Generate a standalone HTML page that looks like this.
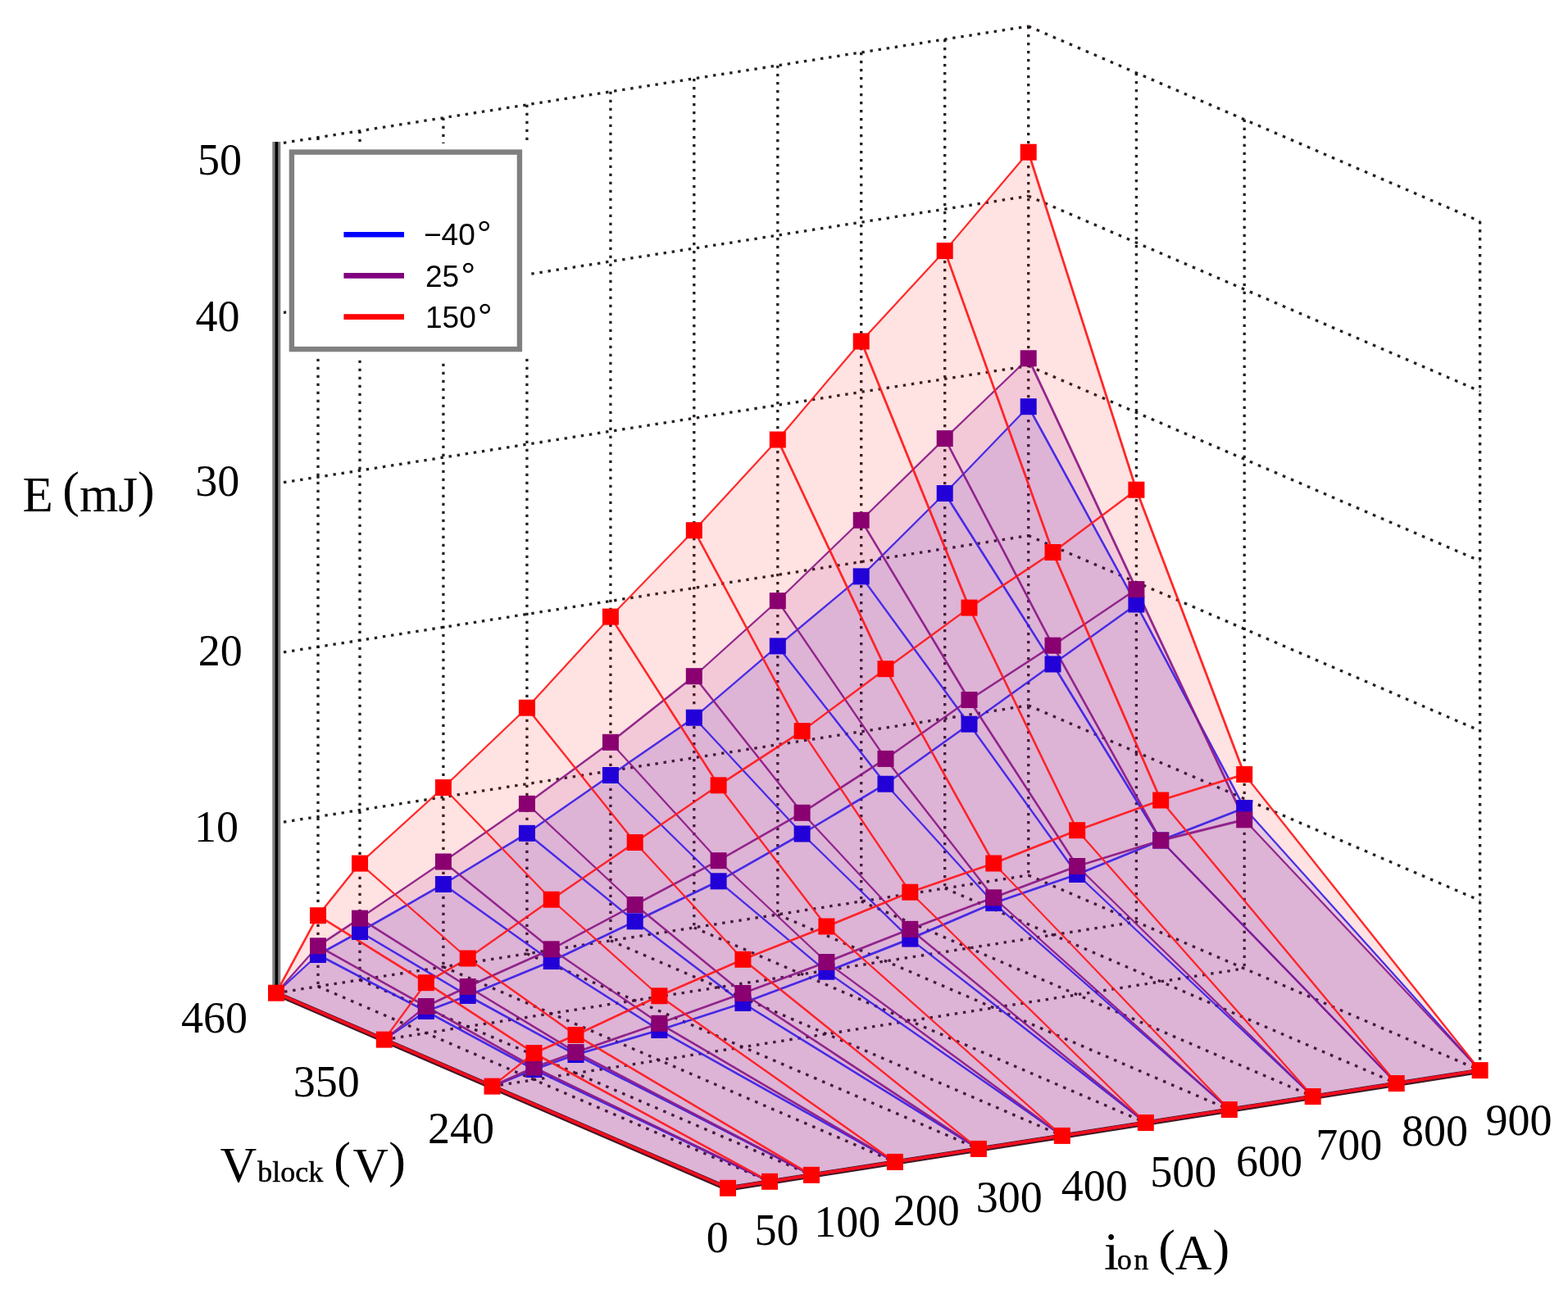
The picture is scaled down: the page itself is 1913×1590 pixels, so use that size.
<!DOCTYPE html>
<html lang="en"><head><meta charset="utf-8"><title>E (mJ) vs Vblock (V) and ion (A)</title>
<style>
html,body{margin:0;padding:0;background:#fff;}
body{width:1913px;height:1590px;overflow:hidden;}
svg{display:block;}
.t{font-family:"Liberation Serif","DejaVu Serif",serif;fill:#000;}
.l{font-family:"Liberation Sans","DejaVu Sans",sans-serif;fill:#000;}
.d{stroke:#141010;stroke-width:3.3;stroke-opacity:.93;fill:none;}
</style></head><body>
<svg width="1913" height="1590" viewBox="0 0 1913 1590">
<rect width="1913" height="1590" fill="#fff"/>
<defs><filter id="soft" x="0" y="0" width="1913" height="1590" filterUnits="userSpaceOnUse"><feGaussianBlur stdDeviation="0.55"/></filter></defs>
<g filter="url(#soft)">
<g class="d">
<path d="M346 1003.1L1254.7 860.8" stroke-dasharray="3.4 6.8"/>
<path d="M346 795.9L1254.7 653.6" stroke-dasharray="3.4 6.8"/>
<path d="M346 588.7L1254.7 446.4" stroke-dasharray="3.4 6.8"/>
<path d="M346 381.5L1254.7 239.2" stroke-dasharray="3.4 6.8"/>
<path d="M346 174.3L1254.7 32" stroke-dasharray="3.4 6.8"/>
<path d="M388 167.7L388 1203.7" stroke-dasharray="3.3 6.7"/>
<path d="M439 159.7L439 1195.7" stroke-dasharray="3.3 6.7"/>
<path d="M540.9 143.8L540.9 1179.8" stroke-dasharray="3.3 6.7"/>
<path d="M642.9 127.8L642.9 1163.8" stroke-dasharray="3.3 6.7"/>
<path d="M744.9 111.8L744.9 1147.8" stroke-dasharray="3.3 6.7"/>
<path d="M846.8 95.9L846.8 1131.9" stroke-dasharray="3.3 6.7"/>
<path d="M948.8 79.9L948.8 1115.9" stroke-dasharray="3.3 6.7"/>
<path d="M1050.7 63.9L1050.7 1099.9" stroke-dasharray="3.3 6.7"/>
<path d="M1152.7 47.9L1152.7 1083.9" stroke-dasharray="3.3 6.7"/>
<path d="M1254.7 32L1254.7 1068" stroke-dasharray="3.3 6.7"/>
<path d="M1254.7 860.8L1805.6 1098.9" stroke-dasharray="3.6 7.3"/>
<path d="M1254.7 653.6L1805.6 891.7" stroke-dasharray="3.6 7.3"/>
<path d="M1254.7 446.4L1805.6 684.5" stroke-dasharray="3.6 7.3"/>
<path d="M1254.7 239.2L1805.6 477.3" stroke-dasharray="3.6 7.3"/>
<path d="M1254.7 32L1805.6 270.1" stroke-dasharray="3.6 7.3"/>
<path d="M1386.4 88.9L1386.4 1124.9" stroke-dasharray="3.3 6.7"/>
<path d="M1518.2 145.8L1518.2 1181.8" stroke-dasharray="3.3 6.7"/>
<path d="M1805.6 270.1L1805.6 1306.1" stroke-dasharray="3.3 6.7"/>
<path d="M388 1203.7L939 1441.8" stroke-dasharray="3.6 7.3"/>
<path d="M439 1195.7L990 1433.8" stroke-dasharray="3.6 7.3"/>
<path d="M540.9 1179.8L1091.9 1417.9" stroke-dasharray="3.6 7.3"/>
<path d="M642.9 1163.8L1193.9 1401.9" stroke-dasharray="3.6 7.3"/>
<path d="M744.9 1147.8L1295.8 1385.9" stroke-dasharray="3.6 7.3"/>
<path d="M846.8 1131.9L1397.8 1370" stroke-dasharray="3.6 7.3"/>
<path d="M948.8 1115.9L1499.8 1354" stroke-dasharray="3.6 7.3"/>
<path d="M1050.7 1099.9L1601.7 1338" stroke-dasharray="3.6 7.3"/>
<path d="M1152.7 1083.9L1703.7 1322" stroke-dasharray="3.6 7.3"/>
<path d="M1254.7 1068L1805.6 1306.1" stroke-dasharray="3.6 7.3"/>
<path d="M337 1211.7L1254.7 1068" stroke-dasharray="3.4 6.8"/>
<path d="M468.8 1268.6L1386.4 1124.9" stroke-dasharray="3.4 6.8"/>
<path d="M600.5 1325.6L1518.2 1181.8" stroke-dasharray="3.4 6.8"/>
</g>
<path d="M337 1211.7L337 1211.7L468.8 1268.6L600.5 1325.6L888 1449.8L888 1449.8L888 1449.8L939 1441.8L990 1433.8L1295.8 1385.9L1397.8 1370L1805.6 1306.1L1805.6 1306.1L1805.6 1306.1L1518.2 986L1518.2 986L1518.2 986L1386.4 737.5L1386.4 737.5L1254.7 496.2L1254.7 496.2L1254.6 496.2L1152.7 602L1152.7 602L1050.7 703.4L1050.7 703.4L948.8 788.4L846.8 875.7L846.8 875.7L744.9 946L744.9 946L642.9 1016.8L642.9 1016.8L540.9 1079L540.9 1079L439 1137L439 1137L388 1165L388 1165L388 1165L388 1165L337 1211.7ZM948.8 788.4L948.8 788.4L948.8 788.4Z" fill="#0000ff" fill-opacity="0.115" fill-rule="evenodd"/>
<path d="M337 1211.7L337 1211.7L468.8 1268.6L600.5 1325.6L888 1449.8L888 1449.8L888 1449.8L939 1441.8L990 1433.8L1295.8 1385.9L1397.8 1370L1805.6 1306.1L1805.6 1306.1L1805.6 1306.1L1518.2 1000.3L1518.2 1000.3L1518.2 1000.3L1518.1 1000.3L1386.4 719.1L1254.7 437.3L1254.7 437.3L1254.6 437.3L1152.7 535.1L1152.7 535.1L1050.7 634.8L1050.7 634.8L948.8 733.2L948.8 733.2L846.8 825.2L846.8 825.2L744.9 905.8L744.8 905.8L642.9 980.8L642.9 980.8L540.9 1051.5L540.9 1051.5L439 1120.6L439 1120.6L388 1154.3L388 1154.3L388 1154.3L388 1154.3L388 1154.3L337 1211.7Z" fill="#800080" fill-opacity="0.115" fill-rule="evenodd"/>
<path d="M337 1211.7L337 1211.7L468.8 1268.6L600.5 1325.6L888 1449.8L888 1449.8L888 1449.8L939 1441.8L990 1433.8L1295.8 1385.9L1397.8 1370L1805.6 1306.1L1805.6 1306.1L1805.6 1306.1L1518.2 944.9L1518.2 944.9L1518.2 944.9L1518.2 944.9L1386.4 597.7L1386.4 597.7L1254.7 185.7L1254.7 185.7L1254.6 185.7L1152.7 306.1L1152.7 306.1L1050.7 416.5L1050.7 416.5L948.8 536.5L948.8 536.5L846.8 647.2L846.8 647.2L744.9 752.6L642.9 863.7L642.9 863.7L540.9 961L540.9 961L439 1053.6L439 1053.6L439 1053.6L439 1053.6L439 1053.6L388 1117.2L388 1117.2L388 1117.2L388 1117.2L388 1117.2L337 1211.7ZM744.9 752.6L744.9 752.6L744.9 752.6Z" fill="#ff0000" fill-opacity="0.115" fill-rule="evenodd"/>
<path d="M337.3 173V1211.7" stroke="#808080" stroke-width="10" fill="none"/>
<path d="M337.4 173V1211.7" stroke="#000" stroke-width="3.6" fill="none"/>
<path d="M337 1212.4L888 1450.5L1805.6 1306.8" stroke="#2a000c" stroke-opacity="0.9" stroke-width="6.4" fill="none" stroke-linejoin="round"/>
<g stroke="#3a1ee6" fill="none" stroke-linecap="round" stroke-opacity="0.92">
<path stroke-width="2.2" d="M337 1211.7L388 1165M846.8 875.7L948.8 788.4M1050.7 703.4L1152.7 602M1152.7 602L1254.7 496.2M744.9 946L876.6 1075.3M876.6 1075.3L1008.4 1185.7M846.8 875.7L978.6 1017.5M978.6 1017.5L1110.3 1145.6M1080.5 956.7L1212.3 1102M1212.3 1102L1499.8 1354M1314.2 1067L1601.7 1338M1416.2 1025.5L1703.7 1322M1518.2 986L1805.6 1306.1"/>
<path stroke-width="2.4" d="M642.9 1016.8L744.9 946M744.9 946L846.8 875.7M948.8 788.4L1050.7 703.4M468.8 1268.6L519.8 1234M1080.5 956.7L1182.5 883.7M1182.5 883.7L1284.5 810.5M1284.5 810.5L1386.4 737.5M540.9 1079L672.7 1173M642.9 1016.8L774.7 1124.3M774.7 1124.3L906.4 1224M1008.4 1185.7L1295.8 1385.9M1110.3 1145.6L1397.8 1370M948.8 788.4L1080.5 956.7M1050.7 703.4L1182.5 883.7M1182.5 883.7L1314.2 1067"/>
<path stroke-width="2.6" d="M388 1165L439 1137M439 1137L540.9 1079M540.9 1079L642.9 1016.8M876.6 1075.3L978.6 1017.5M978.6 1017.5L1080.5 956.7M388 1165L519.8 1234M519.8 1234L651.5 1305M439 1137L570.7 1215M570.7 1215L702.5 1287M702.5 1287L990 1433.8M672.7 1173L804.4 1257M804.4 1257L1091.9 1417.9M906.4 1224L1193.9 1401.9M1152.7 602L1284.5 810.5M1284.5 810.5L1416.2 1025.5M1254.7 496.2L1386.4 737.5M1386.4 737.5L1518.2 986"/>
<path stroke-width="2.8" d="M519.8 1234L570.7 1215M570.7 1215L672.7 1173M672.7 1173L774.7 1124.3M774.7 1124.3L876.6 1075.3M600.5 1325.6L651.5 1305M651.5 1305L702.5 1287M702.5 1287L804.4 1257M804.4 1257L906.4 1224M906.4 1224L1008.4 1185.7M1008.4 1185.7L1110.3 1145.6M1110.3 1145.6L1212.3 1102M1212.3 1102L1314.2 1067M1314.2 1067L1416.2 1025.5M1416.2 1025.5L1518.2 986M337 1211.7L468.8 1268.6M468.8 1268.6L600.5 1325.6M600.5 1325.6L888 1449.8M651.5 1305L939 1441.8"/>
<path stroke-width="3" d="M888 1449.8L939 1441.8M939 1441.8L990 1433.8M990 1433.8L1091.9 1417.9M1091.9 1417.9L1193.9 1401.9M1193.9 1401.9L1295.8 1385.9M1295.8 1385.9L1397.8 1370M1397.8 1370L1499.8 1354M1499.8 1354L1601.7 1338M1601.7 1338L1703.7 1322M1703.7 1322L1805.6 1306.1"/>
</g>
<g stroke="#8b1a86" fill="none" stroke-linecap="round" stroke-opacity="0.92">
<path stroke-width="2.2" d="M337 1211.7L388 1154.3M846.8 825.2L948.8 733.2M948.8 733.2L1050.7 634.8M1050.7 634.8L1152.7 535.1M1152.7 535.1L1254.7 437.3M642.9 980.8L774.7 1104M744.9 905.8L876.6 1050.2M876.6 1050.2L1008.4 1174M978.6 991.8L1110.3 1133.8M1212.3 1095.3L1499.8 1354M1314.2 1057L1601.7 1338M1416.2 1025.5L1703.7 1322M1518.2 1000.3L1805.6 1306.1"/>
<path stroke-width="2.4" d="M439 1120.6L540.9 1051.5M540.9 1051.5L642.9 980.8M642.9 980.8L744.9 905.8M744.9 905.8L846.8 825.2M468.8 1268.6L519.8 1228M1080.5 925.9L1182.5 854M1284.5 787.7L1386.4 719.1M540.9 1051.5L672.7 1158.3M672.7 1158.3L804.4 1248.8M774.7 1104L906.4 1212M1008.4 1174L1295.8 1385.9M846.8 825.2L978.6 991.8M1110.3 1133.8L1397.8 1370M948.8 733.2L1080.5 925.9M1080.5 925.9L1212.3 1095.3"/>
<path stroke-width="2.6" d="M388 1154.3L439 1120.6M672.7 1158.3L774.7 1104M774.7 1104L876.6 1050.2M876.6 1050.2L978.6 991.8M978.6 991.8L1080.5 925.9M1182.5 854L1284.5 787.7M388 1154.3L519.8 1228M519.8 1228L651.5 1302.5M651.5 1302.5L939 1441.8M439 1120.6L570.7 1204M570.7 1204L702.5 1284M702.5 1284L990 1433.8M804.4 1248.8L1091.9 1417.9M906.4 1212L1193.9 1401.9M1050.7 634.8L1182.5 854M1182.5 854L1314.2 1057M1152.7 535.1L1284.5 787.7M1284.5 787.7L1416.2 1025.5"/>
<path stroke-width="2.8" d="M519.8 1228L570.7 1204M570.7 1204L672.7 1158.3M600.5 1325.6L651.5 1302.5M651.5 1302.5L702.5 1284M702.5 1284L804.4 1248.8M804.4 1248.8L906.4 1212M906.4 1212L1008.4 1174M1008.4 1174L1110.3 1133.8M1110.3 1133.8L1212.3 1095.3M1212.3 1095.3L1314.2 1057M1314.2 1057L1416.2 1025.5M337 1211.7L468.8 1268.6M468.8 1268.6L600.5 1325.6M600.5 1325.6L888 1449.8M1254.7 437.3L1386.4 719.1M1386.4 719.1L1518.2 1000.3"/>
<path stroke-width="3" d="M1416.2 1025.5L1518.2 1000.3M888 1449.8L939 1441.8M939 1441.8L990 1433.8M990 1433.8L1091.9 1417.9M1091.9 1417.9L1193.9 1401.9M1193.9 1401.9L1295.8 1385.9M1295.8 1385.9L1397.8 1370M1397.8 1370L1499.8 1354M1499.8 1354L1601.7 1338M1601.7 1338L1703.7 1322M1703.7 1322L1805.6 1306.1"/>
</g>
<g stroke="#ff1a1a" fill="none" stroke-linecap="round" stroke-opacity="0.92">
<path stroke-width="2.2" d="M439 1053.6L540.9 961M540.9 961L642.9 863.7M642.9 863.7L744.9 752.6M744.9 752.6L846.8 647.2M846.8 647.2L948.8 536.5M948.8 536.5L1050.7 416.5M1050.7 416.5L1152.7 306.1M1152.7 306.1L1254.7 185.7M439 1053.6L570.7 1169.5M540.9 961L672.7 1097.7M672.7 1097.7L804.4 1215.3M774.7 1028L906.4 1170.8M1008.4 1130.5L1295.8 1385.9M1110.3 1088.7L1397.8 1370M1212.3 1053.5L1499.8 1354M1314.2 1013.2L1601.7 1338"/>
<path stroke-width="2.4" d="M388 1117.2L439 1053.6M468.8 1268.6L519.8 1199.2M570.7 1169.5L672.7 1097.7M672.7 1097.7L774.7 1028M774.7 1028L876.6 958.3M978.6 892.1L1080.5 816.2M1080.5 816.2L1182.5 741.6M1284.5 674L1386.4 597.7M600.5 1325.6L651.5 1285M570.7 1169.5L702.5 1263M804.4 1215.3L1091.9 1417.9M642.9 863.7L774.7 1028M906.4 1170.8L1193.9 1401.9M876.6 958.3L1008.4 1130.5M978.6 892.1L1110.3 1088.7M1416.2 976.5L1703.7 1322M1518.2 944.9L1805.6 1306.1"/>
<path stroke-width="2.6" d="M337 1211.7L388 1117.2M519.8 1199.2L570.7 1169.5M876.6 958.3L978.6 892.1M1182.5 741.6L1284.5 674M388 1117.2L519.8 1199.2M519.8 1199.2L651.5 1285M651.5 1285L939 1441.8M702.5 1263L990 1433.8M744.9 752.6L876.6 958.3M846.8 647.2L978.6 892.1M1080.5 816.2L1212.3 1053.5M1182.5 741.6L1314.2 1013.2"/>
<path stroke-width="2.8" d="M651.5 1285L702.5 1263M702.5 1263L804.4 1215.3M804.4 1215.3L906.4 1170.8M906.4 1170.8L1008.4 1130.5M1008.4 1130.5L1110.3 1088.7M1110.3 1088.7L1212.3 1053.5M1212.3 1053.5L1314.2 1013.2M1314.2 1013.2L1416.2 976.5M1416.2 976.5L1518.2 944.9M337 1211.7L468.8 1268.6M468.8 1268.6L600.5 1325.6M600.5 1325.6L888 1449.8M948.8 536.5L1080.5 816.2M1050.7 416.5L1182.5 741.6M1152.7 306.1L1284.5 674M1284.5 674L1416.2 976.5M1254.7 185.7L1386.4 597.7M1386.4 597.7L1518.2 944.9"/>
<path stroke-width="3" d="M888 1449.8L939 1441.8M939 1441.8L990 1433.8M990 1433.8L1091.9 1417.9M1091.9 1417.9L1193.9 1401.9M1193.9 1401.9L1295.8 1385.9M1295.8 1385.9L1397.8 1370M1397.8 1370L1499.8 1354M1499.8 1354L1601.7 1338M1601.7 1338L1703.7 1322M1703.7 1322L1805.6 1306.1"/>
</g>
<path d="M337 1211.7L888 1449.8L1805.6 1306.1" stroke="#f2081c" stroke-width="3.7" fill="none" stroke-linejoin="round"/>
<g>
<rect x="378" y="1155" width="20" height="20" fill="#2000d8"/>
<rect x="429" y="1127" width="20" height="20" fill="#2000d8"/>
<rect x="530.9" y="1069" width="20" height="20" fill="#2000d8"/>
<rect x="632.9" y="1006.8" width="20" height="20" fill="#2000d8"/>
<rect x="734.9" y="936" width="20" height="20" fill="#2000d8"/>
<rect x="836.8" y="865.7" width="20" height="20" fill="#2000d8"/>
<rect x="938.8" y="778.4" width="20" height="20" fill="#2000d8"/>
<rect x="1040.7" y="693.4" width="20" height="20" fill="#2000d8"/>
<rect x="1142.7" y="592" width="20" height="20" fill="#2000d8"/>
<rect x="1244.7" y="486.2" width="20" height="20" fill="#2000d8"/>
<rect x="509.8" y="1224" width="20" height="20" fill="#2000d8"/>
<rect x="560.7" y="1205" width="20" height="20" fill="#2000d8"/>
<rect x="662.7" y="1163" width="20" height="20" fill="#2000d8"/>
<rect x="764.7" y="1114.3" width="20" height="20" fill="#2000d8"/>
<rect x="866.6" y="1065.3" width="20" height="20" fill="#2000d8"/>
<rect x="968.6" y="1007.5" width="20" height="20" fill="#2000d8"/>
<rect x="1070.5" y="946.7" width="20" height="20" fill="#2000d8"/>
<rect x="1172.5" y="873.7" width="20" height="20" fill="#2000d8"/>
<rect x="1274.5" y="800.5" width="20" height="20" fill="#2000d8"/>
<rect x="1376.4" y="727.5" width="20" height="20" fill="#2000d8"/>
<rect x="641.5" y="1295" width="20" height="20" fill="#2000d8"/>
<rect x="692.5" y="1277" width="20" height="20" fill="#2000d8"/>
<rect x="794.4" y="1247" width="20" height="20" fill="#2000d8"/>
<rect x="896.4" y="1214" width="20" height="20" fill="#2000d8"/>
<rect x="998.4" y="1175.7" width="20" height="20" fill="#2000d8"/>
<rect x="1100.3" y="1135.6" width="20" height="20" fill="#2000d8"/>
<rect x="1202.3" y="1092" width="20" height="20" fill="#2000d8"/>
<rect x="1304.2" y="1057" width="20" height="20" fill="#2000d8"/>
<rect x="1406.2" y="1015.5" width="20" height="20" fill="#2000d8"/>
<rect x="1508.2" y="976" width="20" height="20" fill="#2000d8"/>
<rect x="378" y="1144.3" width="20" height="20" fill="#8a0070"/>
<rect x="429" y="1110.6" width="20" height="20" fill="#8a0070"/>
<rect x="530.9" y="1041.5" width="20" height="20" fill="#8a0070"/>
<rect x="632.9" y="970.8" width="20" height="20" fill="#8a0070"/>
<rect x="734.9" y="895.8" width="20" height="20" fill="#8a0070"/>
<rect x="836.8" y="815.2" width="20" height="20" fill="#8a0070"/>
<rect x="938.8" y="723.2" width="20" height="20" fill="#8a0070"/>
<rect x="1040.7" y="624.8" width="20" height="20" fill="#8a0070"/>
<rect x="1142.7" y="525.1" width="20" height="20" fill="#8a0070"/>
<rect x="1244.7" y="427.3" width="20" height="20" fill="#8a0070"/>
<rect x="509.8" y="1218" width="20" height="20" fill="#8a0070"/>
<rect x="560.7" y="1194" width="20" height="20" fill="#8a0070"/>
<rect x="662.7" y="1148.3" width="20" height="20" fill="#8a0070"/>
<rect x="764.7" y="1094" width="20" height="20" fill="#8a0070"/>
<rect x="866.6" y="1040.2" width="20" height="20" fill="#8a0070"/>
<rect x="968.6" y="981.8" width="20" height="20" fill="#8a0070"/>
<rect x="1070.5" y="915.9" width="20" height="20" fill="#8a0070"/>
<rect x="1172.5" y="844" width="20" height="20" fill="#8a0070"/>
<rect x="1274.5" y="777.7" width="20" height="20" fill="#8a0070"/>
<rect x="1376.4" y="709.1" width="20" height="20" fill="#8a0070"/>
<rect x="641.5" y="1292.5" width="20" height="20" fill="#8a0070"/>
<rect x="692.5" y="1274" width="20" height="20" fill="#8a0070"/>
<rect x="794.4" y="1238.8" width="20" height="20" fill="#8a0070"/>
<rect x="896.4" y="1202" width="20" height="20" fill="#8a0070"/>
<rect x="998.4" y="1164" width="20" height="20" fill="#8a0070"/>
<rect x="1100.3" y="1123.8" width="20" height="20" fill="#8a0070"/>
<rect x="1202.3" y="1085.3" width="20" height="20" fill="#8a0070"/>
<rect x="1304.2" y="1047" width="20" height="20" fill="#8a0070"/>
<rect x="1406.2" y="1015.5" width="20" height="20" fill="#8a0070"/>
<rect x="1508.2" y="990.3" width="20" height="20" fill="#8a0070"/>
<rect x="327" y="1201.7" width="20" height="20" fill="#ff0000"/>
<rect x="378" y="1107.2" width="20" height="20" fill="#ff0000"/>
<rect x="429" y="1043.6" width="20" height="20" fill="#ff0000"/>
<rect x="530.9" y="951" width="20" height="20" fill="#ff0000"/>
<rect x="632.9" y="853.7" width="20" height="20" fill="#ff0000"/>
<rect x="734.9" y="742.6" width="20" height="20" fill="#ff0000"/>
<rect x="836.8" y="637.2" width="20" height="20" fill="#ff0000"/>
<rect x="938.8" y="526.5" width="20" height="20" fill="#ff0000"/>
<rect x="1040.7" y="406.5" width="20" height="20" fill="#ff0000"/>
<rect x="1142.7" y="296.1" width="20" height="20" fill="#ff0000"/>
<rect x="1244.7" y="175.7" width="20" height="20" fill="#ff0000"/>
<rect x="458.8" y="1258.6" width="20" height="20" fill="#ff0000"/>
<rect x="509.8" y="1189.2" width="20" height="20" fill="#ff0000"/>
<rect x="560.7" y="1159.5" width="20" height="20" fill="#ff0000"/>
<rect x="662.7" y="1087.7" width="20" height="20" fill="#ff0000"/>
<rect x="764.7" y="1018" width="20" height="20" fill="#ff0000"/>
<rect x="866.6" y="948.3" width="20" height="20" fill="#ff0000"/>
<rect x="968.6" y="882.1" width="20" height="20" fill="#ff0000"/>
<rect x="1070.5" y="806.2" width="20" height="20" fill="#ff0000"/>
<rect x="1172.5" y="731.6" width="20" height="20" fill="#ff0000"/>
<rect x="1274.5" y="664" width="20" height="20" fill="#ff0000"/>
<rect x="1376.4" y="587.7" width="20" height="20" fill="#ff0000"/>
<rect x="590.5" y="1315.6" width="20" height="20" fill="#ff0000"/>
<rect x="641.5" y="1275" width="20" height="20" fill="#ff0000"/>
<rect x="692.5" y="1253" width="20" height="20" fill="#ff0000"/>
<rect x="794.4" y="1205.3" width="20" height="20" fill="#ff0000"/>
<rect x="896.4" y="1160.8" width="20" height="20" fill="#ff0000"/>
<rect x="998.4" y="1120.5" width="20" height="20" fill="#ff0000"/>
<rect x="1100.3" y="1078.7" width="20" height="20" fill="#ff0000"/>
<rect x="1202.3" y="1043.5" width="20" height="20" fill="#ff0000"/>
<rect x="1304.2" y="1003.2" width="20" height="20" fill="#ff0000"/>
<rect x="1406.2" y="966.5" width="20" height="20" fill="#ff0000"/>
<rect x="1508.2" y="934.9" width="20" height="20" fill="#ff0000"/>
<rect x="878" y="1439.8" width="20" height="20" fill="#ff0000"/>
<rect x="929" y="1431.8" width="20" height="20" fill="#ff0000"/>
<rect x="980" y="1423.8" width="20" height="20" fill="#ff0000"/>
<rect x="1081.9" y="1407.9" width="20" height="20" fill="#ff0000"/>
<rect x="1183.9" y="1391.9" width="20" height="20" fill="#ff0000"/>
<rect x="1285.8" y="1375.9" width="20" height="20" fill="#ff0000"/>
<rect x="1387.8" y="1360" width="20" height="20" fill="#ff0000"/>
<rect x="1489.8" y="1344" width="20" height="20" fill="#ff0000"/>
<rect x="1591.7" y="1328" width="20" height="20" fill="#ff0000"/>
<rect x="1693.7" y="1312" width="20" height="20" fill="#ff0000"/>
<rect x="1795.6" y="1296.1" width="20" height="20" fill="#ff0000"/>
</g>
</g>
<rect x="349.5" y="175" width="298" height="262.5" fill="#fff"/>
<rect x="355.9" y="185.6" width="278" height="240.5" fill="#fff" stroke="#808080" stroke-width="6.4"/>
<path d="M419.4 286.2H493" stroke="#0000ff" stroke-width="6.6" fill="none"/>
<text class="l" x="517" y="299.3" font-size="37">−40<tspan font-size="45" dx="2" dy="2">°</tspan></text>
<path d="M419.4 336.4H493" stroke="#800080" stroke-width="6.6" fill="none"/>
<text class="l" x="519" y="349.5" font-size="37">25<tspan font-size="45" dx="2" dy="2">°</tspan></text>
<path d="M419.4 386.6H493" stroke="#ff0000" stroke-width="6.6" fill="none"/>
<text class="l" x="519" y="399.7" font-size="37">150<tspan font-size="45" dx="2" dy="2">°</tspan></text>
<text class="t" x="268" y="213.2" font-size="54" text-anchor="middle">50</text>
<text class="t" x="265.5" y="403.7" font-size="54" text-anchor="middle">40</text>
<text class="t" x="265.3" y="604.5" font-size="54" text-anchor="middle">30</text>
<text class="t" x="268.8" y="812" font-size="54" text-anchor="middle">20</text>
<text class="t" x="264" y="1026.8" font-size="54" text-anchor="middle">10</text>
<text class="t" x="261.5" y="1260.2" font-size="54" text-anchor="middle">460</text>
<text class="t" x="398.2" y="1338" font-size="54" text-anchor="middle">350</text>
<text class="t" x="562.6" y="1395.2" font-size="54" text-anchor="middle">240</text>
<text class="t" x="875.3" y="1528.3" font-size="54" text-anchor="middle">0</text>
<text class="t" x="947.5" y="1518.9" font-size="54" text-anchor="middle">50</text>
<text class="t" x="1033.7" y="1508.6" font-size="54" text-anchor="middle">100</text>
<text class="t" x="1130.2" y="1494.8" font-size="54" text-anchor="middle">200</text>
<text class="t" x="1231.3" y="1478.8" font-size="54" text-anchor="middle">300</text>
<text class="t" x="1335.3" y="1465.3" font-size="54" text-anchor="middle">400</text>
<text class="t" x="1443.7" y="1448.2" font-size="54" text-anchor="middle">500</text>
<text class="t" x="1548.5" y="1435" font-size="54" text-anchor="middle">600</text>
<text class="t" x="1645.8" y="1414.7" font-size="54" text-anchor="middle">700</text>
<text class="t" x="1750.5" y="1398.2" font-size="54" text-anchor="middle">800</text>
<text class="t" x="1853" y="1384.6" font-size="54" text-anchor="middle">900</text>
<text class="t" x="27.5" y="624.4" font-size="61">E <tspan dx="-3.75" dy="-6.5" font-size="62">(</tspan><tspan dy="6.5">mJ</tspan><tspan dy="-6.5" font-size="62">)</tspan></text>
<text class="t" x="268.5" y="1442.2" font-size="62">V<tspan font-size="36" dx="1" stroke="#000" stroke-width="0.5">block</tspan> <tspan font-size="62" dx="-2.5" dy="-6.5">(</tspan><tspan dy="6.5" dx="2.5" font-size="60">V</tspan><tspan dy="-6.5" dx="0.5" font-size="62">)</tspan></text>
<text class="t" x="1347" y="1549" font-size="65">i<tspan font-size="36" dx="-2.2" letter-spacing="2.3" stroke="#000" stroke-width="0.5">on</tspan> <tspan font-size="62" dx="-6.55" dy="-6.5">(</tspan><tspan dy="6.5" font-size="62">A</tspan><tspan dy="-6.5" dx="1" font-size="62">)</tspan></text>
</svg></body></html>
